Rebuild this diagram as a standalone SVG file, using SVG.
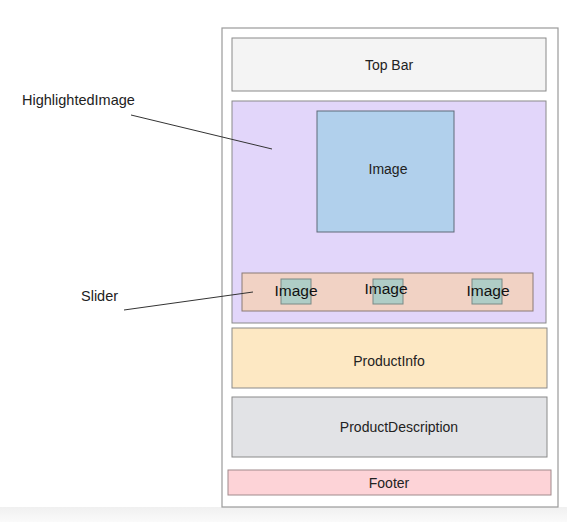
<svg xmlns="http://www.w3.org/2000/svg" width="577" height="531" viewBox="0 0 577 531">
<defs>
<linearGradient id="shade" x1="0" y1="0" x2="0" y2="1">
<stop offset="0" stop-color="#f0f0f0"/>
<stop offset="1" stop-color="#fafafa"/>
</linearGradient>
<style>
text{font-family:"Liberation Sans",Arial,sans-serif;font-size:14px;fill:#222;text-anchor:middle;dominant-baseline:central}
.box{stroke:#8a8a8a;stroke-width:1}
.lbl{text-anchor:start;font-size:14.5px}
.thumb{font-size:15.5px;fill:#111}
.conn{stroke:#333;stroke-width:1;fill:none}
</style>
</defs>
<rect x="0" y="0" width="577" height="531" fill="#ffffff"/>
<rect x="0" y="507" width="567" height="15" fill="url(#shade)"/>
<g id="frame"><rect x="222" y="28" width="336" height="479" fill="#ffffff" stroke="#9a9a9a" stroke-width="1.2"/></g>
<g id="topbar"><rect class="box" x="232" y="38" width="314" height="53" fill="#f4f4f4"/><text x="389" y="65">Top Bar</text></g>
<g id="highlighted"><rect class="box" x="232" y="101" width="314" height="222" fill="#e2d6fa"/></g>
<g id="mainimage"><rect x="317" y="111" width="137" height="121" fill="#b1d0ec" stroke="#5f6a78" stroke-width="1"/><text x="388" y="169">Image</text></g>
<g id="slider"><rect x="242" y="273" width="291" height="38" fill="#f1d2c4" stroke="#8a7a74" stroke-width="1"/></g>
<g id="thumb1"><rect x="281" y="279" width="30" height="25" fill="#afcdc6" stroke="#7a8a86" stroke-width="1"/><text class="thumb" x="296" y="290">Image</text></g>
<g id="thumb2"><rect x="373" y="279" width="30" height="25" fill="#afcdc6" stroke="#7a8a86" stroke-width="1"/><text class="thumb" x="386" y="288">Image</text></g>
<g id="thumb3"><rect x="472" y="279" width="30" height="25" fill="#afcdc6" stroke="#7a8a86" stroke-width="1"/><text class="thumb" x="488" y="290">Image</text></g>
<g id="productinfo"><rect class="box" x="232" y="328" width="315" height="60" fill="#fde8c3"/><text x="389" y="361">ProductInfo</text></g>
<g id="productdescription"><rect class="box" x="232" y="397" width="315" height="60" fill="#e2e3e6"/><text x="399" y="427">ProductDescription</text></g>
<g id="footer"><rect x="228" y="470" width="323" height="25" fill="#fdd3d7" stroke="#a08a8c" stroke-width="1"/><text x="389" y="483">Footer</text></g>
<g id="label-highlighted"><text class="lbl" x="22" y="100">HighlightedImage</text></g>
<g id="label-slider"><text class="lbl" x="81" y="296">Slider</text></g>
<g id="connectors">
<line class="conn" x1="131" y1="115" x2="272" y2="149"/>
<line class="conn" x1="124" y1="310" x2="253" y2="292"/>
</g>
</svg>
